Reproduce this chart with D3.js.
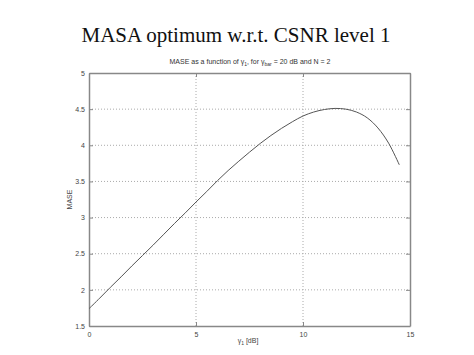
<!DOCTYPE html>
<html><head><meta charset="utf-8">
<script src="https://cdn.jsdelivr.net/npm/d3@7"></script>
<style>body{margin:0;background:#fff}svg{display:block}</style>
</head><body>
<script>
const gammaDb = [0,0.5,1,1.5,2,2.5,3,3.5,4,4.5,5,5.5,6,6.5,7,7.5,8,8.5,9,9.5,10,10.5,11,11.5,12,12.5,13,13.5,14,14.5];
const mase    = [1.74,1.885,2.035,2.18,2.33,2.475,2.62,2.77,2.92,3.065,3.215,3.36,3.51,3.65,3.78,3.905,4.025,4.135,4.235,4.325,4.405,4.46,4.495,4.51,4.50,4.46,4.38,4.24,4.03,3.73];
const xTicks = [0,5,10,15];
const yTicks = [1.5,2,2.5,3,3.5,4,4.5,5];

const W=474,H=355;
const svg=d3.select("body").append("svg").attr("width",W).attr("height",H);
const m={l:89,r:64,t:73,b:29};
const x=d3.scaleLinear().domain([0,15]).range([m.l,W-m.r]);
const y=d3.scaleLinear().domain([1.5,5]).range([H-m.b,m.t]);

svg.append("text").attr("x",236).attr("y",42).attr("text-anchor","middle")
  .attr("font-family","Liberation Serif, Times New Roman, serif").attr("font-size",21).attr("fill","#111")
  .text("MASA optimum w.r.t. CSNR level 1");

const sub=svg.append("text").attr("x",250).attr("y",64).attr("text-anchor","middle")
  .attr("font-family","Liberation Sans, Arial, sans-serif").attr("font-size",7).attr("fill","#333");
sub.append("tspan").text("MASE as a function of γ");
sub.append("tspan").attr("font-size",5).attr("dy",2).text("1");
sub.append("tspan").attr("dy",-2).text(", for γ");
sub.append("tspan").attr("font-size",5).attr("dy",2).text("bar");
sub.append("tspan").attr("dy",-2).text(" = 20 dB and N = 2");

// grid
const grid=svg.append("g").attr("stroke","#aaa").attr("stroke-width",1).attr("stroke-dasharray","1,2");
xTicks.slice(1,-1).forEach(t=>grid.append("line").attr("x1",x(t)).attr("x2",x(t)).attr("y1",y(1.5)).attr("y2",y(5)));
yTicks.slice(1,-1).forEach(t=>grid.append("line").attr("x1",x(0)).attr("x2",x(15)).attr("y1",y(t)).attr("y2",y(t)));

// axes
const axStyle=g=>{g.selectAll("path").attr("stroke","#888").attr("stroke-width",1.5);
  g.selectAll("line").attr("stroke","#888");
  g.selectAll("text").attr("font-family","Liberation Sans, Arial, sans-serif").attr("font-size",7).attr("fill","#444");};
svg.append("g").attr("transform",`translate(0,${y(1.5)})`)
  .call(d3.axisBottom(x).tickValues(xTicks).tickSize(-4).tickSizeOuter(0).tickPadding(6)).call(axStyle);
svg.append("g").attr("transform",`translate(${x(0)},0)`)
  .call(d3.axisLeft(y).tickValues(yTicks).tickFormat(d3.format("")).tickSize(-4).tickSizeOuter(0).tickPadding(4)).call(axStyle);
svg.append("g").attr("transform",`translate(0,${y(5)})`)
  .call(d3.axisTop(x).tickValues(xTicks).tickSize(-4).tickSizeOuter(0).tickFormat("")).call(axStyle);
svg.append("g").attr("transform",`translate(${x(15)},0)`)
  .call(d3.axisRight(y).tickValues(yTicks).tickSize(-4).tickSizeOuter(0).tickFormat("")).call(axStyle);

// curve
const pts=gammaDb.map((g,i)=>[g,mase[i]]);
svg.append("path").datum(pts).attr("fill","none").attr("stroke","#555").attr("stroke-width",1)
  .attr("d",d3.line().x(d=>x(d[0])).y(d=>y(d[1])).curve(d3.curveCatmullRom));

// labels
const xl=svg.append("text").attr("x",248).attr("y",343).attr("text-anchor","middle")
  .attr("font-family","Liberation Sans, Arial, sans-serif").attr("font-size",7).attr("fill","#444");
xl.append("tspan").text("γ");
xl.append("tspan").attr("font-size",5).attr("dy",2).text("1");
xl.append("tspan").attr("dy",-2).text(" [dB]");
svg.append("text").attr("transform",`translate(72,${y(3.25)}) rotate(-90)`).attr("text-anchor","middle")
  .attr("font-family","Liberation Sans, Arial, sans-serif").attr("font-size",7).attr("fill","#444").text("MASE");
</script>
</body></html>
